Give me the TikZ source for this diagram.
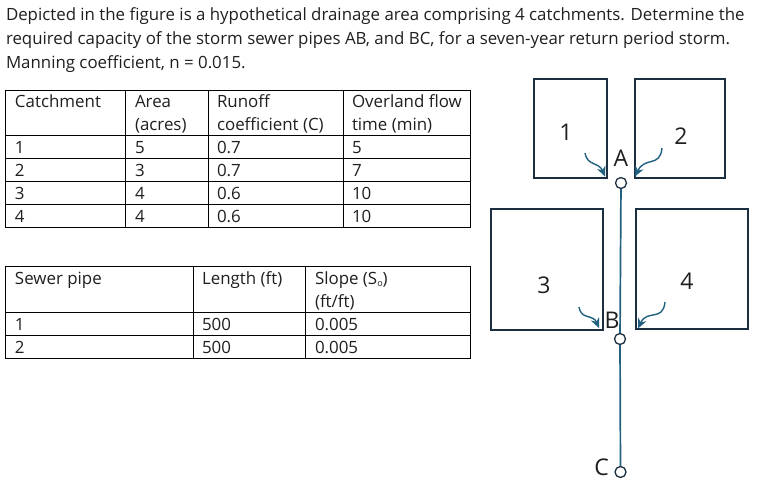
\documentclass[tikz,border=0pt]{standalone}
\usepackage{fontspec}
\setmainfont{Open Sans}
\usetikzlibrary{arrows.meta}
\definecolor{ink}{HTML}{1F1F1F}
\definecolor{boxline}{HTML}{1C2F40}
\definecolor{pipe}{HTML}{21607F}
\tikzset{
  txt/.style={anchor=base west,inner sep=0pt,outer sep=0pt,text=ink,font=\fontsize{16.9}{18}\selectfont},
  para/.style={txt,font=\fontsize{16.85}{19}\selectfont},
  num/.style={inner sep=0pt,text=ink,font=\fontsize{23}{26}\selectfont},
  grid/.style={draw=black,line width=0.8pt},
  catch/.style={draw=boxline,line width=1.6pt,inner sep=0pt,outer sep=0pt,anchor=north west},
  manhole/.style={circle,draw=boxline,line width=1.3pt,fill=white,minimum size=11pt,inner sep=0pt},
  pipeline/.style={draw=pipe,line width=1.7pt},
  flow/.style={draw=pipe,line width=1.4pt,-{Stealth[length=10pt,width=9pt]}}
}
\begin{document}
\begin{tikzpicture}[x=1pt,y=-1pt]
\useasboundingbox (0,0) rectangle (761,490);
% intro text
\node[para] (p1) at (6,20) {Depicted in the figure is a hypothetical drainage area comprising 4 catchments. Determine the};
\node[para] (p2) at (6,44) {required capacity of the storm sewer pipes AB, and BC, for a seven-year return period storm.};
\node[para] (p3) at (6,68) {Manning coefficient, n = 0.015.};
% table 1
\draw[grid] (5,90) rectangle (470,227);
\foreach \yy in {135,158,181,204} \draw[grid] (5,\yy) -- (470,\yy);
\foreach \xx in {125,208,343} \draw[grid] (\xx,90) -- (\xx,227);
\node[txt] (h1) at (15,107) {Catchment};
\node[txt] (h2) at (135,107) {Area};
\node[txt] (h2b) at (135,130) {(acres)};
\node[txt] (h3) at (217,107) {Runoff};
\node[txt] (h3b) at (217,130) {coefficient (C)};
\node[txt] (h4) at (352,107) {Overland flow};
\node[txt] (h4b) at (352,130) {time (min)};
\node[txt] (a1) at (15,153) {1};
\node[txt] (a2) at (135,153) {5};
\node[txt] (a3) at (217,153) {0.7};
\node[txt] (a4) at (352,153) {5};
\node[txt] (b1) at (15,176) {2};
\node[txt] (b2) at (135,176) {3};
\node[txt] (b3) at (217,176) {0.7};
\node[txt] (b4) at (352,176) {7};
\node[txt] (c1) at (15,199) {3};
\node[txt] (c2) at (135,199) {4};
\node[txt] (c3) at (217,199) {0.6};
\node[txt] (c4) at (352,199) {10};
\node[txt] (d1) at (15,222) {4};
\node[txt] (d2) at (135,222) {4};
\node[txt] (d3) at (217,222) {0.6};
\node[txt] (d4) at (352,222) {10};
% table 2
\draw[grid] (5,266) rectangle (470,358);
\foreach \yy in {312,335} \draw[grid] (5,\yy) -- (470,\yy);
\foreach \xx in {193,305} \draw[grid] (\xx,266) -- (\xx,358);
\node[txt] (s1) at (15,284) {Sewer pipe};
\node[txt] (s2) at (202,284) {Length (ft)};
\node[txt] (s3) at (315,284) {Slope (S\raisebox{-2pt}{\fontsize{9}{10}\selectfont o})};
\node[txt] (s3b) at (315,307) {(ft/ft)};
\node[txt] (e1) at (15,330) {1};
\node[txt] (e2) at (202,330) {500};
\node[txt] (e3) at (315,330) {0.005};
\node[txt] (f1) at (15,353) {2};
\node[txt] (f2) at (202,353) {500};
\node[txt] (f3) at (315,353) {0.005};
% catchments
\node[catch,minimum width=73pt,minimum height=99pt] (c-one) at (534,79) {};
\node[catch,minimum width=90pt,minimum height=99pt] (c-two) at (635,79) {};
\node[catch,minimum width=112pt,minimum height=121pt] (c-three) at (491,209) {};
\node[catch,minimum width=112pt,minimum height=120pt] (c-four) at (636,209) {};
\node[num] (n1) at (566,132) {1};
\node[num] (n2) at (681,136) {2};
\node[num] (n3) at (544,285) {3};
\node[num] (n4) at (687,281) {4};
\node[num] (la) at (621,158) {A};
\node[num] (lb) at (612,320) {B};
\node[num] (lc) at (601.5,467) {C};
% sewer
\node[manhole] (A) at (621,183) {};
\node[manhole] (B) at (620,339) {};
\node[manhole] (C) at (620.5,472) {};
\draw[pipeline] (A) -- (B);
\draw[pipeline] (B) -- (C);
% inflow arrows
\coordinate (s-one) at (585,153);
\coordinate (t-one) at (605,176.5);
\coordinate (s-two) at (662,148);
\coordinate (t-two) at (635,176.5);
\coordinate (s-three) at (579,307);
\coordinate (t-three) at (599,328);
\coordinate (s-four) at (665,302);
\coordinate (t-four) at (638,328.5);
\draw[flow] (s-one) .. controls (587,166) and (599,162) .. (t-one);
\draw[flow] (s-two) .. controls (660,168) and (645,156) .. (t-two);
\draw[flow] (s-three) .. controls (581,320) and (593,314) .. (t-three);
\draw[flow] (s-four) .. controls (663,322) and (647,309) .. (t-four);
\end{tikzpicture}
\end{document}
